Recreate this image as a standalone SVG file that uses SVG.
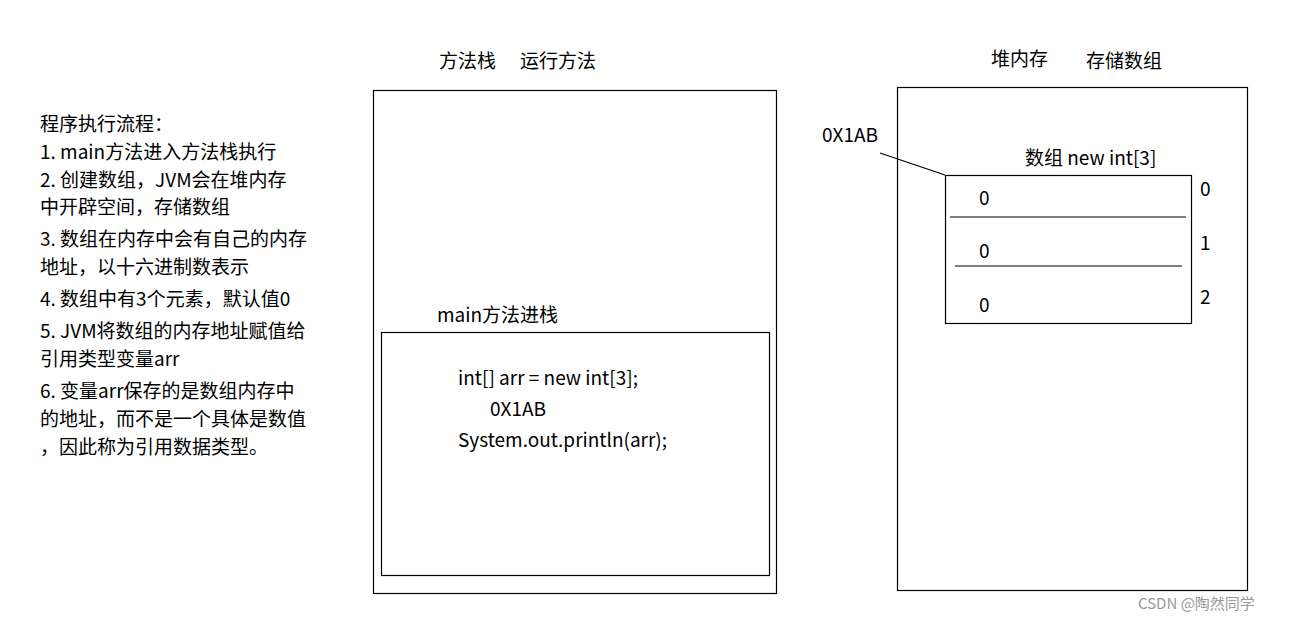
<svg xmlns="http://www.w3.org/2000/svg" width="1290" height="621" viewBox="0 0 1290 621">
<style>
text{font-family:"Noto Sans CJK SC","Noto Sans",sans-serif;font-size:19px;fill:#000}
.b{fill:none;stroke:#000;stroke-width:1.2}
.w{font-size:15px;fill:#999}
</style>
<rect width="1290" height="621" fill="#fff"/>
<g id="notes">
<text x="40" y="131">程序执行流程：</text>
<text x="40" y="159">1. main方法进入方法栈执行</text>
<text x="40" y="187">2. 创建数组，JVM会在堆内存</text>
<text x="40" y="214">中开辟空间，存储数组</text>
<text x="40" y="246">3. 数组在内存中会有自己的内存</text>
<text x="40" y="274">地址，以十六进制数表示</text>
<text x="40" y="306">4. 数组中有3个元素，默认值0</text>
<text x="40" y="338">5. JVM将数组的内存地址赋值给</text>
<text x="40" y="366">引用类型变量arr</text>
<text x="40" y="398">6. 变量arr保存的是数组内存中</text>
<text x="40" y="426">的地址，而不是一个具体是数值</text>
<text x="40" y="454">，因此称为引用数据类型。</text>
</g>
<g id="stack">
<text x="439" y="68">方法栈</text><text x="520" y="68">运行方法</text>
<rect class="b" x="373.5" y="90.5" width="403" height="503"/>
</g>
<g id="frame">
<text x="437" y="322">main方法进栈</text>
<rect class="b" x="381.5" y="332.5" width="388" height="243"/>
<text x="458" y="385">int[] arr = new int[3];</text>
<text x="490" y="416">0X1AB</text>
<text x="458" y="447">System.out.println(arr);</text>
</g>
<g id="heap">
<text x="991" y="66">堆内存</text><text x="1086" y="68">存储数组</text>
<rect class="b" x="897.5" y="87.5" width="350" height="503"/>
</g>
<g id="array">
<text x="822" y="142">0X1AB</text>
<text x="1025" y="165">数组 new int[3]</text>
<rect class="b" x="945.5" y="175.5" width="246" height="148"/>
<text x="979" y="205">0</text><text x="979" y="258">0</text><text x="979" y="312">0</text>
<text x="1200" y="196">0</text><text x="1200" y="250">1</text><text x="1200" y="304">2</text>
</g>
<g id="connectors">
<line class="b" x1="950" y1="217" x2="1186" y2="217"/>
<line class="b" x1="955" y1="266" x2="1182" y2="266"/>
<line class="b" x1="880" y1="153" x2="945" y2="175"/>
</g>
<text class="w" x="1138" y="609">CSDN @陶然同学</text>
</svg>
